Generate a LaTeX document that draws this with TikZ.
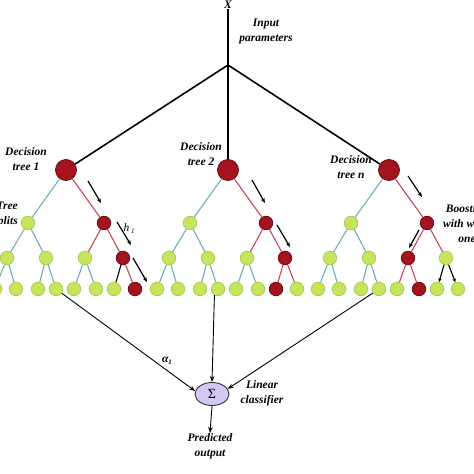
\documentclass[tikz,border=0pt]{standalone}
\usepackage{fontspec}
\setmainfont{Liberation Serif}
\usetikzlibrary{shapes.geometric,arrows.meta}
\definecolor{rfill}{HTML}{A3141F}
\definecolor{rdraw}{HTML}{6E0A10}
\definecolor{gfill}{HTML}{C8E45C}
\definecolor{gdraw}{HTML}{A6CF55}
\definecolor{tealc}{HTML}{6BB0B8}
\definecolor{redc}{HTML}{C4475A}
\definecolor{sfill}{HTML}{D6C8F4}
\newcommand\mktree[2]{%
  \node[rroot] (#1r) at (#2,170) {};
  \node[gnode,#1-n-a/.try] (#1a) at (#2-38,223) {};
  \node[gnode,#1-n-b/.try] (#1b) at (#2+38,223) {};
  \node[gnode,#1-n-aa/.try] (#1aa) at (#2-59,258) {};
  \node[gnode,#1-n-ab/.try] (#1ab) at (#2-20,258) {};
  \node[gnode,#1-n-ba/.try] (#1ba) at (#2+19,258) {};
  \node[gnode,#1-n-bb/.try] (#1bb) at (#2+57,258) {};
  \node[gnode,#1-n-aaa/.try] (#1aaa) at (#2-71,289) {};
  \node[gnode,#1-n-aab/.try] (#1aab) at (#2-50,289) {};
  \node[gnode,#1-n-aba/.try] (#1aba) at (#2-28,289) {};
  \node[gnode,#1-n-abb/.try] (#1abb) at (#2-10,289) {};
  \node[gnode,#1-n-baa/.try] (#1baa) at (#2+8,289) {};
  \node[gnode,#1-n-bab/.try] (#1bab) at (#2+30,289) {};
  \node[gnode,#1-n-bba/.try] (#1bba) at (#2+48,289) {};
  \node[gnode,#1-n-bbb/.try] (#1bbb) at (#2+69,289) {};
  \draw[tedge,#1-e-a/.try] (#1r) -- (#1a);
  \draw[tedge,#1-e-b/.try] (#1r) -- (#1b);
  \draw[tedge,#1-e-aa/.try] (#1a) -- (#1aa);
  \draw[tedge,#1-e-ab/.try] (#1a) -- (#1ab);
  \draw[tedge,#1-e-ba/.try] (#1b) -- (#1ba);
  \draw[tedge,#1-e-bb/.try] (#1b) -- (#1bb);
  \draw[tedge,#1-e-aaa/.try] (#1aa) -- (#1aaa);
  \draw[tedge,#1-e-aab/.try] (#1aa) -- (#1aab);
  \draw[tedge,#1-e-aba/.try] (#1ab) -- (#1aba);
  \draw[tedge,#1-e-abb/.try] (#1ab) -- (#1abb);
  \draw[tedge,#1-e-baa/.try] (#1ba) -- (#1baa);
  \draw[tedge,#1-e-bab/.try] (#1ba) -- (#1bab);
  \draw[tedge,#1-e-bba/.try] (#1bb) -- (#1bba);
  \draw[tedge,#1-e-bbb/.try] (#1bb) -- (#1bbb);
}
\tikzset{
  rroot/.style={circle,fill=rfill,draw=rdraw,line width=0.8pt,minimum size=21pt,inner sep=0pt},
  rnode/.style={circle,fill=rfill,draw=rdraw,line width=0.8pt,minimum size=13.5pt,inner sep=0pt},
  gnode/.style={circle,fill=gfill,draw=gdraw,line width=0.8pt,minimum size=13.5pt,inner sep=0pt},
  tedge/.style={draw=tealc,line width=1.1pt},
  redge/.style={draw=redc,line width=1.1pt},
  bedge/.style={draw=black,line width=1.1pt},
  bedgea/.style={draw=black,line width=1.1pt,-{Stealth[length=4pt,width=3.5pt]}},
  mainline/.style={draw=black,line width=1.6pt},
  sumarrow/.style={draw=black,line width=0.9pt,-{Stealth[length=6pt,width=4.5pt]}},
  darrow/.style={draw=black,line width=1.2pt,-{Stealth[length=5pt,width=4pt]}},
  lab/.style={font=\fontsize{11.5}{15}\selectfont\bfseries\itshape,align=center,inner sep=0pt},
  % tree 1
  T1-n-b/.style={rnode}, T1-n-bb/.style={rnode}, T1-n-bbb/.style={rnode},
  T1-e-b/.style={redge}, T1-e-ba/.style={redge}, T1-e-bb/.style={redge},
  T1-e-bbb/.style={redge}, T1-e-bba/.style={bedge},
  % tree 2
  T2-n-b/.style={rnode}, T2-n-bb/.style={rnode}, T2-n-bba/.style={rnode},
  T2-e-b/.style={redge}, T2-e-ba/.style={redge}, T2-e-bb/.style={redge},
  T2-e-bba/.style={redge}, T2-e-bbb/.style={redge},
  % tree n
  T3-n-b/.style={rnode}, T3-n-ba/.style={rnode}, T3-n-bab/.style={rnode},
  T3-e-b/.style={redge}, T3-e-ba/.style={redge}, T3-e-bb/.style={redge},
  T3-e-baa/.style={redge}, T3-e-bab/.style={redge},
  T3-e-bba/.style={bedgea}, T3-e-bbb/.style={bedgea},
}
\begin{document}
\begin{tikzpicture}[x=1pt,y=-1pt]
\useasboundingbox (0,0) rectangle (474,474);
\fill[white] (0,0) rectangle (474,474);
% main lines
\node[lab] (X) at (228,5) {X};
\coordinate (J) at (228,65);
\mktree{T1}{66}
\mktree{T2}{228}
\mktree{T3}{389}
\draw[mainline] (X) -- (T2r);
\draw[mainline] (J) -- (T1r);
\draw[mainline] (J) -- (T3r);
% labels
\node[lab] (inp) at (266,31) {Input\\parameters};
\node[lab] (d1) at (26,159) {Decision\\tree 1};
\node[lab] (d2) at (201,154) {Decision\\tree 2};
\node[lab] (dn) at (351,167) {Decision\\tree n};
\node[lab,anchor=east,align=right] (ts) at (18,214) {Tree\\splits};
\node[lab] (bw) at (467,224) {Boosting\\with weak\\one};
\node[font=\fontsize{11.5}{15}\selectfont\itshape,inner sep=0pt] (h1) at (129,229) {h\raisebox{-2pt}{\scriptsize\ 1}};
% direction arrows
\coordinate (a1s) at (88,181); \coordinate (a1e) at (101,203);
\coordinate (a2s) at (117,222); \coordinate (a2e) at (131,245);
\coordinate (a3s) at (133,258); \coordinate (a3e) at (147,282);
\coordinate (a4s) at (252,180); \coordinate (a4e) at (265,203);
\coordinate (a5s) at (277,225); \coordinate (a5e) at (290,247);
\coordinate (a6s) at (408,176); \coordinate (a6e) at (422,197);
\coordinate (a7s) at (419,230); \coordinate (a7e) at (409,248);
\draw[darrow] (a1s) -- (a1e);
\draw[darrow] (a2s) -- (a2e);
\draw[darrow] (a3s) -- (a3e);
\draw[darrow] (a4s) -- (a4e);
\draw[darrow] (a5s) -- (a5e);
\draw[darrow] (a6s) -- (a6e);
\draw[darrow] (a7s) -- (a7e);
% linear classifier
\node[ellipse,fill=sfill,draw=black!80,line width=0.9pt,minimum width=34pt,minimum height=23pt,inner sep=0pt,font=\fontsize{14}{14}\selectfont] (S) at (212,394) {Σ};
\draw[sumarrow] (T1abb) -- (S.170);
\draw[sumarrow] (T2abb.240) -- (S.north);
\draw[sumarrow] (T3abb) -- (S.18);
\node[lab] (al) at (167,361) {α\raisebox{-2pt}{\scriptsize 1}};
\node[lab] (lc) at (262,393) {Linear\\classifier};
\node[lab] (po) at (210,446) {Predicted\\output};
\draw[sumarrow] (S.south) -- (po.north);
\end{tikzpicture}
\end{document}
